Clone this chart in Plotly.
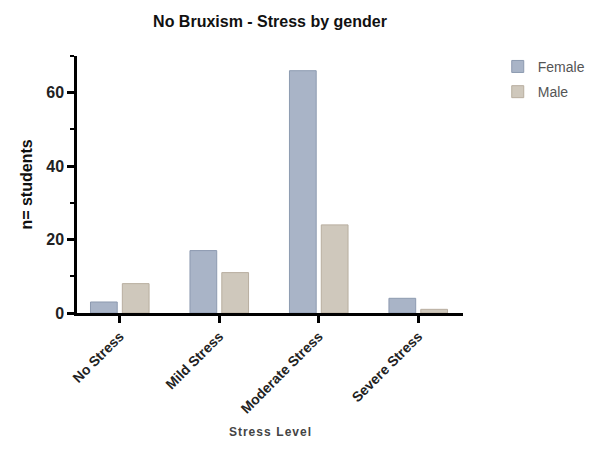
import plotly.graph_objects as go

categories = ["No Stress", "Mild Stress", "Moderate Stress", "Severe Stress"]
female = [3, 17, 66, 4]
male = [8, 11, 24, 1]

fig = go.Figure()
fig.add_trace(go.Bar(x=categories, y=female, name="Female", legendgroup="f",
                     marker=dict(color="#A9B4C7", line=dict(color="#8D9AB0", width=1))))
fig.add_trace(go.Bar(x=categories, y=male, name="Male", legendgroup="m",
                     marker=dict(color="#CFC8BC", line=dict(color="#B8AE9F", width=1))))

fig.update_layout(
    width=600, height=453,
    paper_bgcolor="white", plot_bgcolor="white",
    margin=dict(l=69, r=145, t=48, b=148, autoexpand=False),
    barmode="group", bargap=0.36, bargroupgap=0.16,
    font=dict(family="Liberation Sans, Arial, sans-serif", color="#111"),
    title=dict(text="<b>No Bruxism - Stress by gender</b>", x=262/600, xanchor="center",
               y=1-13/453, yanchor="middle", font=dict(size=16, color="#111")),
    legend=dict(x=1.09, y=1.02, xanchor="left", yanchor="top",
                font=dict(size=14, color="#555"), tracegroupgap=4, itemwidth=30),
    showlegend=True,
)
fig.update_xaxes(
    range=[-0.43, 3.45], showline=True, linecolor="black", linewidth=2.5,
    ticks="outside", ticklen=7, tickwidth=2.5, tickcolor="black",
    tickangle=-45, tickfont=dict(size=14, color="#222", weight="bold"),
    showgrid=False, zeroline=False, automargin=False,
    title=dict(text="<b>S\u200at\u200ar\u200ae\u200as\u200as\u2009 L\u200ae\u200av\u200ae\u200al</b>",
               font=dict(size=12, color="#444"), standoff=12),
)
fig.update_yaxes(
    range=[0, 70], tickvals=[0, 20, 40, 60], showline=True, linecolor="black", linewidth=2.5,
    ticks="outside", ticklen=7, tickwidth=2.5, tickcolor="black",
    minor=dict(tickvals=[10, 30, 50, 70], ticks="outside", ticklen=4, tickwidth=2, tickcolor="black"),
    tickfont=dict(size=16, color="#222", weight="bold"),
    showgrid=False, zeroline=False, automargin=False,
    title=dict(text="<b>n= students</b>", font=dict(size=16, color="#111"), standoff=10),
)

fig.write_html("out.html")
